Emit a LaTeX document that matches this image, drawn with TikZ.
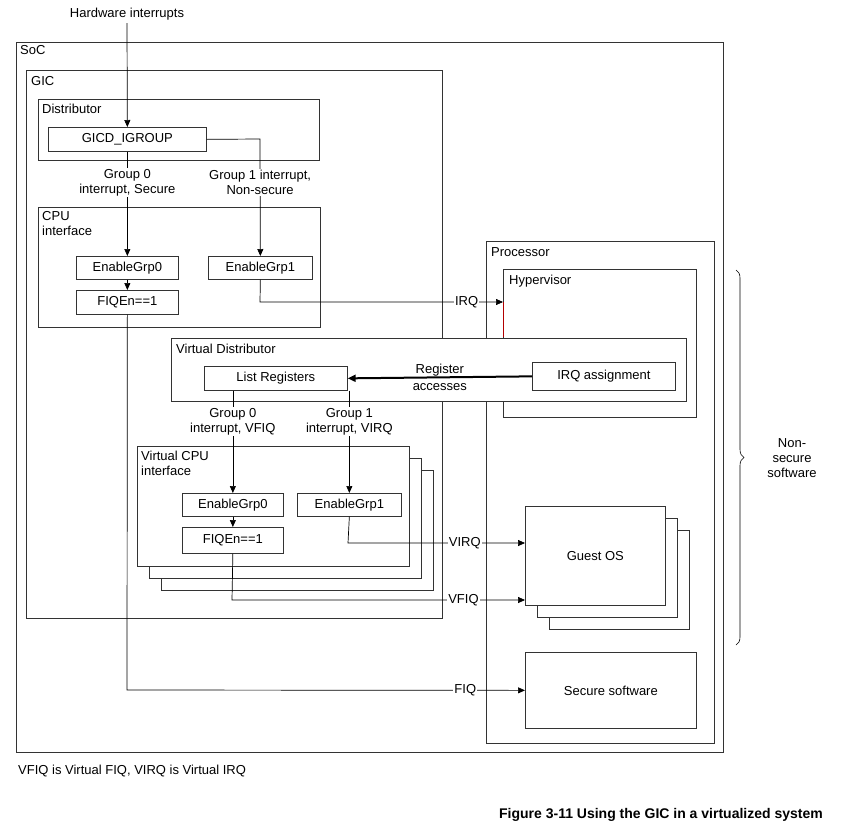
\documentclass[tikz,border=0pt]{standalone}
\usepackage{fontspec}
\setmainfont{Liberation Sans}
\usetikzlibrary{arrows.meta,decorations.pathreplacing}
\begin{document}
\begin{tikzpicture}[x=1pt,y=-1pt,
  every node/.style={font=\fontsize{13}{15}\selectfont, inner sep=0pt},
  box/.style={draw=black!80, line width=0.7pt, fill=white, anchor=north west},
  lbl/.style={anchor=north west, align=left},
  lab/.style={align=center, fill=white, inner sep=1pt},
  wire/.style={draw=black, line width=0.7pt},
  arr/.style={wire, -{Triangle[length=7pt,width=6pt]}}]
\useasboundingbox (0,0) rectangle (842,833);
% containers
\node[box, minimum width=707, minimum height=710] (soc) at (16,42) {};
\node[lbl] (socl) at (20,45) {SoC};
\node[box, minimum width=416, minimum height=548] (gic) at (26,70) {};
\node[lbl] (gicl) at (31,76) {GIC};
\node[box, minimum width=228, minimum height=502] (proc) at (486,241) {};
\node[lbl] (procl) at (491,247) {Processor};
\node[box, minimum width=193, minimum height=148] (hyp) at (503,269) {};
\node[lbl] (hypl) at (509,275) {Hypervisor};
\draw[red!70!black, line width=0.8pt] (503,302) -- (503,337);
% Distributor
\node[box, minimum width=281, minimum height=61] (dist) at (38,99) {};
\node[lbl] (distl) at (42,104) {Distributor};
\node[box, minimum width=158, minimum height=24] (igroup) at (48,127) {GICD\_IGROUP};
% CPU interface
\node[box, minimum width=282, minimum height=120] (cpu) at (38,207) {};
\node[lbl] (cpul) at (42,211) {CPU\\interface};
\node[box, minimum width=102, minimum height=23] (eg0) at (76,256) {EnableGrp0};
\node[box, minimum width=104, minimum height=23] (eg1) at (208,256) {EnableGrp1};
\node[box, minimum width=102, minimum height=24] (fiq) at (76,290) {FIQEn==1};
% Hardware interrupts
\node (hw) at (127,14) {Hardware interrupts};
\coordinate (hwb) at (127,23);
% Guest OS stack
\node[box, minimum width=140, minimum height=99] (g3) at (549,530) {};
\node[box, minimum width=140, minimum height=99] (g2) at (537,518) {};
\node[box, minimum width=140, minimum height=99] (guest) at (525,506) {Guest OS};
\node[box, minimum width=171, minimum height=76] (sec) at (525,652) {Secure software};
% FIQ path
\draw[arr] (fiq.south) -- (127,690) -- node[lab, pos=0.85]{FIQ} (sec.west);
% Virtual CPU stack
\node[box, minimum width=272, minimum height=120] (v3) at (161,470) {};
\node[box, minimum width=272, minimum height=120] (v2) at (149,458) {};
\node[box, minimum width=272, minimum height=120] (vcpu) at (137,446) {};
\node[lbl] (vcpul) at (141,451) {Virtual CPU\\interface};
\node[box, minimum width=101, minimum height=23] (veg0) at (182,493) {EnableGrp0};
\node[box, minimum width=104, minimum height=23] (veg1) at (297,493) {EnableGrp1};
\node[box, minimum width=101, minimum height=26] (vfiq) at (182,527) {FIQEn==1};
% Virtual distributor
\node[box, minimum width=515, minimum height=63] (vdist) at (171,338) {};
\node[lbl] (vdistl) at (176,344) {Virtual Distributor};
\node[box, minimum width=143, minimum height=24] (lr) at (204,366) {List Registers};
\node[box, minimum width=143, minimum height=28] (irqa) at (532,362) {IRQ assignment};
\draw[wire, line width=2pt, -{Triangle[length=8pt,width=7pt]}] (irqa.west) -- node[align=center, font=\fontsize{13}{17}\selectfont]{Register\\accesses} (lr.east);
% wires
\draw[arr] (hwb) -- (igroup.north);
\draw[arr] (igroup.south) -- node[lab, pos=0.295]{Group 0\\interrupt, Secure} (eg0.north);
\draw[arr] (igroup.east) -- (260,139) -- node[lab, pos=0.37]{Group 1 interrupt,\\Non-secure} (eg1.north);
\draw[arr] (eg0.south) -- (fiq.north);
\draw[arr] (eg1.south) -- (260,302) -- node[lab, pos=0.85]{IRQ} (hyp.west |- 0,302);
\draw[arr] (lr.south -| veg0.north) -- node[lab, pos=0.3]{Group 0\\interrupt, VFIQ} (veg0.north);
\draw[arr] (lr.south -| veg1.north) -- node[lab, pos=0.3]{Group 1\\interrupt, VIRQ} (veg1.north);
\draw[arr] (veg0.south) -- (vfiq.north);
\draw[arr] (veg1.south) -- (348,543) -- node[lab, pos=0.66]{VIRQ} (guest.west |- 0,543);
\draw[arr] (vfiq.south) -- (232,600) -- node[lab, pos=0.79]{VFIQ} (guest.west |- 0,600);
% brace
\coordinate (bt) at (736,270);
\coordinate (bb) at (736,645);
\draw[line width=0.6pt, decorate, decoration={brace, amplitude=8pt}] (bt) -- (bb);
\node[align=center] (nss) at (792,458) {Non-\\secure\\software};
% notes
\node[anchor=west] (note) at (18,771) {VFIQ is Virtual FIQ, VIRQ is Virtual IRQ};
\node[anchor=east, font=\bfseries\fontsize{14}{16}\selectfont] (title) at (823,815) {Figure 3-11 Using the GIC in a virtualized system};
\end{tikzpicture}
\end{document}
